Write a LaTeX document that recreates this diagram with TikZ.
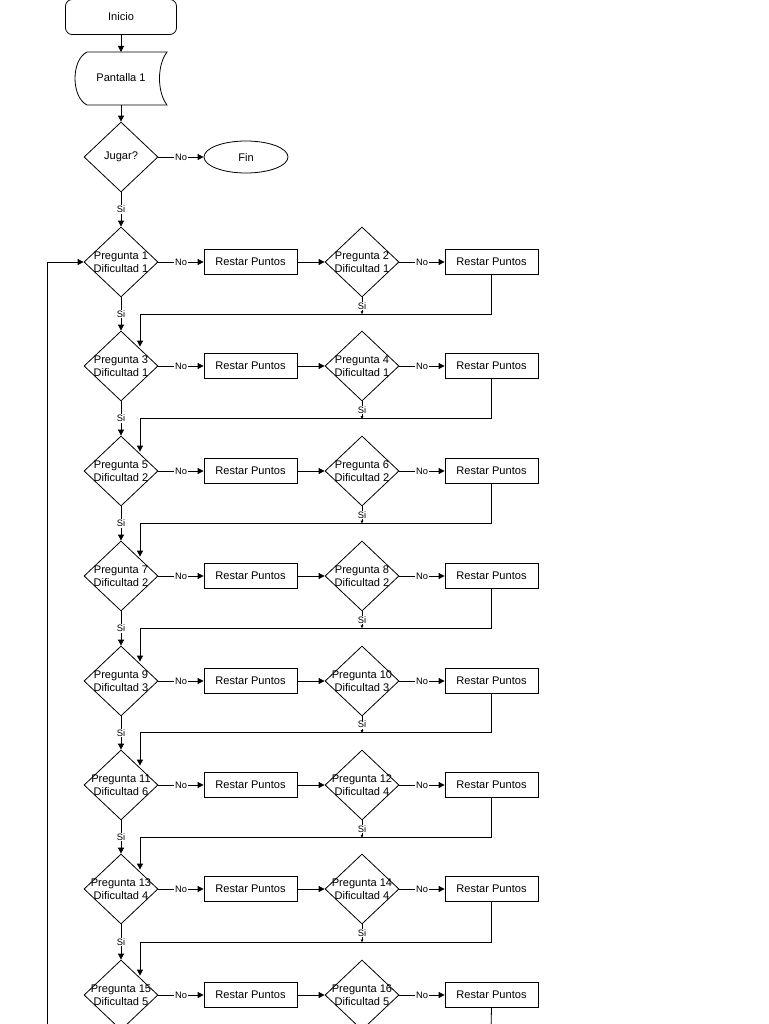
\documentclass[tikz,border=0pt]{standalone}
\usepackage{fontspec}
\setmainfont{Liberation Sans}
\usetikzlibrary{shapes.geometric,arrows.meta}
\begin{document}
\begin{tikzpicture}[x=0.75pt,y=-0.75pt,
  every node/.style={font=\fontsize{8.3}{9.8}\selectfont},
  dia/.style={draw,diamond,minimum width=55.5pt,minimum height=52.5pt,inner sep=0pt,aspect=1.06},
  dtext/.style={align=center,inner sep=0pt},
  rbox/.style={draw,minimum width=69.75pt,minimum height=18.75pt,inner sep=0pt},
  lab/.style={fill=white,inner sep=0.5pt,font=\fontsize{7}{8}\selectfont},
  arr/.style={-{Triangle[length=4.5pt,width=4.5pt]},line width=0.6pt},
  ln/.style={line width=0.6pt}]
\useasboundingbox (0,0) rectangle (768,1024);
\clip (0,0) rectangle (768,1024);
\node[draw,rounded corners=5pt,minimum width=83.25pt,minimum height=26.25pt,line width=0.6pt] (inicio) at (121,17) {Inicio};
\draw[line width=0.6pt] (87,52) -- (167,52) .. controls (157,65) and (157,92) .. (167,105) -- (87,105) .. controls (71,97) and (71,60) .. (87,52) -- cycle;
\node (pant) at (121,78) {Pantalla 1};
\coordinate (pantT) at (121,52);
\coordinate (pantB) at (121,105);
\node[dia,line width=0.6pt] (jugar) at (121,157) {};
\node[dtext] (jugart) at (121,157) {Jugar?};
\node[draw,ellipse,minimum width=63pt,minimum height=24pt,line width=0.6pt] (fin) at (246,157) {Fin};
\draw[arr] (inicio) -- (pantT);
\draw[arr] (pantB) -- (jugar.north);
\draw[arr] (jugar) -- node[lab]{No} (fin);
\foreach \y/\a/\da/\b/\db [count=\i] in {262/1/1/2/1, 366/3/1/4/1, 471/5/2/6/2, 576/7/2/8/2, 681/9/3/10/3, 785/11/6/12/4, 889/13/4/14/4, 995/15/5/16/5}{
  \node[dia,line width=0.6pt] (da\i) at (121,\y) {};
  \node[dtext] (dat\i) at (121,\y) {Pregunta \a\\Dificultad \da};
  \node[rbox,line width=0.6pt] (ra\i) at (250.5,\y) {Restar Puntos};
  \node[dia,line width=0.6pt] (db\i) at (362,\y) {};
  \node[dtext] (dbt\i) at (362,\y) {Pregunta \b\\Dificultad \db};
  \node[rbox,line width=0.6pt] (rb\i) at (491.5,\y) {Restar Puntos};
  \draw[arr] (da\i) -- node[lab]{No} (ra\i);
  \draw[arr] (ra\i) -- (db\i);
  \draw[arr] (db\i) -- node[lab]{No} (rb\i);
}
\foreach \i in {1,...,7}{
  \coordinate (sb\i) at (362,{262+(\i-1)*104.7+52});
  \draw[-{Triangle[length=2pt,width=2pt]},line width=0.6pt] (db\i.south) -- node[lab]{Si} (sb\i);
}
\foreach \i [evaluate=\i as \n using int(\i+1)] in {1,...,7}{
  \coordinate (c\i) at (140,{262+(\i-1)*104.7+52});
  \draw[arr] (rb\i.south) |- (c\i) -- ([yshift=-12pt]da\n.north -| c\i);
  \draw[arr] (da\i.south) -- node[lab]{Si} (da\n.north);
}
\draw[arr] (jugar.south) -- node[lab]{Si} (da1.north);
\coordinate (c8) at (491,1030);
\draw[ln] (rb8.south) -- (c8);
\coordinate (d8e) at (121,1030);
\draw[ln] (da8.south) -- (d8e);
\coordinate (s8e) at (362,1030);
\draw[ln] (db8.south) -- (s8e);
\coordinate (loopB) at (47,1030);
\draw[arr] (loopB) |- (da1.west);
\end{tikzpicture}
\end{document}
